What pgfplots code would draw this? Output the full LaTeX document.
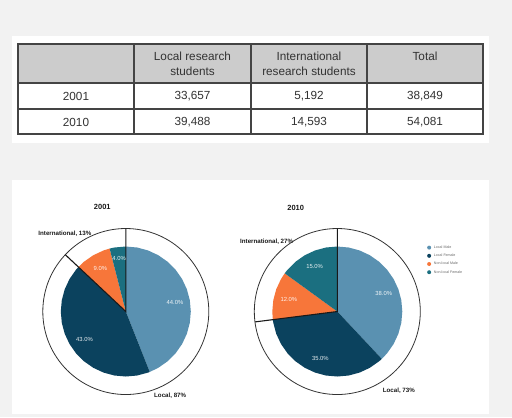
\documentclass[border=0pt]{standalone}
\usepackage{pgfplots}
\pgfplotsset{compat=1.18}
\usepgfplotslibrary{polar}
\usepackage{fontspec}
\setmainfont{Liberation Sans}

\definecolor{LM}{HTML}{5A91B1}
\definecolor{LF}{HTML}{0B425E}
\definecolor{NM}{HTML}{F7763A}
\definecolor{NF}{HTML}{1B6F80}
\definecolor{pagebg}{HTML}{F2F2F2}
\definecolor{headbg}{HTML}{CCCCCC}
\definecolor{rulec}{HTML}{444444}
\definecolor{txt}{HTML}{333333}

\pgfplotsset{
  pie/.style={
    scale only axis, width=166bp, height=166bp,
    xmin=0, xmax=360, ymin=0, ymax=83,
    xtick=\empty, ytick=\empty,
    axis line style={black!80, line width=0.8bp},
    y axis line style={draw=none},
    clip=false, anchor=center,
  },
  divider/.style={black!90, line width=1.1bp, no marks},
  pct/.style={draw=none, no marks, nodes near coords={\pgfplotspointmeta\%},
    point meta=explicit symbolic,
    every node near coord/.append style={anchor=center, text=white, text opacity=0.9,
      font=\fontsize{5.9}{6}\selectfont}},
}

% wedge labels: mid angle, radius, share
\pgfplotstableread{
ang r lab
10.8 50 44.0
214.2 50 43.0
120.6 50 9.0
97.2 53 4.0
}\labA
\pgfplotstableread{
ang r lab
21.6 50 38.0
250.2 50 35.0
165.6 50 12.0
117.0 50 15.0
}\labB

\begin{document}
\begin{tikzpicture}[x=1bp, y=1bp]
\useasboundingbox (0,0) rectangle (512,-417);
\fill[pagebg] (0,0) rectangle (512,-417);
\fill[white] (12,-36) rectangle (489,-143);
\fill[white] (12,-180) rectangle (489,-414);

% table
\fill[headbg] (18,-44) rectangle (483,-83);
\draw[rulec, line width=1.2bp] (18,-44) rectangle (483,-134)
  (18,-83) -- (483,-83) (18,-109) -- (483,-109)
  (134,-44) -- (134,-134) (251,-44) -- (251,-134) (367,-44) -- (367,-134);
\begin{scope}[every node/.style={text=txt, font=\fontsize{11.8}{15}\selectfont, align=center}]
\node at (192.5,-64.2) {Local research\\students};
\node at (309,-64.2) {International\\research students};
\node at (425,-56.7) {Total};
\node at (76,-96.5) {2001};
\node at (192.5,-96.5) {33,657};
\node at (309,-96.5) {5,192};
\node at (425,-96.5) {38,849};
\node at (76,-122) {2010};
\node at (192.5,-122) {39,488};
\node at (309,-122) {14,593};
\node at (425,-122) {54,081};
\end{scope}

% titles and group labels
\begin{scope}[every node/.style={text=black!90, font=\bfseries}]
\node[font=\fontsize{7.5}{8}\selectfont\bfseries] at (102.3,-206.7) {2001};
\node[font=\fontsize{7.5}{8}\selectfont\bfseries] at (295.7,-208.3) {2010};
\node[anchor=west, inner sep=0, font=\fontsize{6.2}{7}\selectfont\bfseries] at (38.3,-233.3) {International, 13\%};
\node[anchor=west, inner sep=0, font=\fontsize{6.2}{7}\selectfont\bfseries] at (154,-396) {Local, 87\%};
\node[anchor=west, inner sep=0, font=\fontsize{6.2}{7}\selectfont\bfseries] at (240,-241.7) {International, 27\%};
\node[anchor=west, inner sep=0, font=\fontsize{6.2}{7}\selectfont\bfseries] at (382.7,-391) {Local, 73\%};
\end{scope}

% 2001
\begin{polaraxis}[pie, at={(125.8bp,-311.5bp)}]
\addplot[fill=LM, draw=none] coordinates {(0,0) (90,65) (80,65) (70,65) (60,65) (50,65) (40,65) (30,65) (20,65) (10,65) (0,65) (-10,65) (-20,65) (-30,65) (-40,65) (-50,65) (-60,65) (-68.4,65) (0,0)};
\addplot[fill=LF, draw=none] coordinates {(0,0) (-68.4,65) (-70,65) (-80,65) (-90,65) (-100,65) (-110,65) (-120,65) (-130,65) (-140,65) (-150,65) (-160,65) (-170,65) (-180,65) (-190,65) (-200,65) (-210,65) (-220,65) (-223.2,65) (0,0)};
\addplot[fill=NM, draw=none] coordinates {(0,0) (-223.2,65) (-230,65) (-240,65) (-250,65) (-255.6,65) (0,0)};
\addplot[fill=NF, draw=none] coordinates {(0,0) (-255.6,65) (-260,65) (-270,65) (0,0)};
\addplot[divider] coordinates {(90,83) (0,0) (136.8,83)};
\addplot[pct] table[x=ang, y=r, meta=lab] {\labA};
\end{polaraxis}

% 2010
\begin{polaraxis}[pie, at={(337.3bp,-311.5bp)},
  legend image code/.code={\fill (2bp,0bp) circle (2bp);},
  legend style={at={(1.04,0.9)}, anchor=north west, draw=none, fill=none,
    inner sep=0pt, text=black!60, font=\fontsize{3.6}{4}\selectfont,
    row sep=3.6bp, nodes={inner sep=0.6bp, text height=2.6bp, text depth=0.8bp},
    /tikz/every odd column/.append style={column sep=2.2bp}},
  legend cell align=left]
\addplot[fill=LM, draw=none, forget plot] coordinates {(0,0) (90,65) (80,65) (70,65) (60,65) (50,65) (40,65) (30,65) (20,65) (10,65) (0,65) (-10,65) (-20,65) (-30,65) (-40,65) (-46.8,65) (0,0)};
\addplot[fill=LF, draw=none, forget plot] coordinates {(0,0) (-46.8,65) (-50,65) (-60,65) (-70,65) (-80,65) (-90,65) (-100,65) (-110,65) (-120,65) (-130,65) (-140,65) (-150,65) (-160,65) (-170,65) (-172.8,65) (0,0)};
\addplot[fill=NM, draw=none, forget plot] coordinates {(0,0) (-172.8,65) (-180,65) (-190,65) (-200,65) (-210,65) (-216,65) (0,0)};
\addplot[fill=NF, draw=none, forget plot] coordinates {(0,0) (-216,65) (-220,65) (-230,65) (-240,65) (-250,65) (-260,65) (-270,65) (0,0)};
\addplot[divider, forget plot] coordinates {(90,83) (0,0) (187.2,83)};
\addplot[pct, forget plot] table[x=ang, y=r, meta=lab] {\labB};
\addlegendimage{fill=LM, draw=none}
\addlegendentry{Local Male}
\addlegendimage{fill=LF, draw=none}
\addlegendentry{Local Female}
\addlegendimage{fill=NM, draw=none}
\addlegendentry{Non-local Male}
\addlegendimage{fill=NF, draw=none}
\addlegendentry{Non-local Female}
\end{polaraxis}
\end{tikzpicture}
\end{document}
